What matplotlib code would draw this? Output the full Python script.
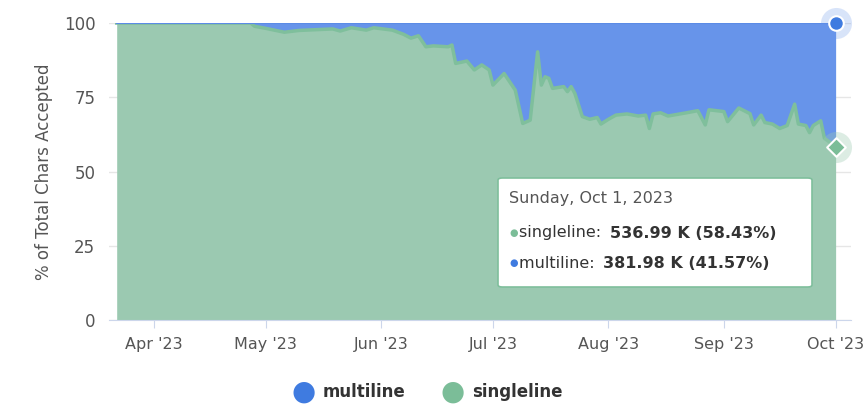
import matplotlib
matplotlib.use("Agg")
import matplotlib.pyplot as plt
import numpy as np
import pandas as pd
from matplotlib.patches import FancyBboxPatch

dates = ["2023-03-22","2023-04-27","2023-04-28","2023-05-01","2023-05-06","2023-05-10","2023-05-19",
 "2023-05-21","2023-05-24","2023-05-28","2023-05-30","2023-06-04","2023-06-07","2023-06-09","2023-06-11",
 "2023-06-13","2023-06-15","2023-06-19","2023-06-20","2023-06-21","2023-06-24","2023-06-26","2023-06-28",
 "2023-06-30","2023-07-01","2023-07-04","2023-07-07","2023-07-09","2023-07-11","2023-07-13","2023-07-14",
 "2023-07-15","2023-07-16","2023-07-17","2023-07-20","2023-07-21","2023-07-22","2023-07-23","2023-07-25",
 "2023-07-27","2023-07-29","2023-07-30","2023-08-01","2023-08-03","2023-08-06","2023-08-09","2023-08-11",
 "2023-08-12","2023-08-13","2023-08-15","2023-08-17","2023-08-22","2023-08-25","2023-08-27","2023-08-28",
 "2023-09-01","2023-09-02","2023-09-05","2023-09-08","2023-09-09","2023-09-11","2023-09-12","2023-09-14",
 "2023-09-16","2023-09-18","2023-09-20","2023-09-21","2023-09-23","2023-09-24","2023-09-25","2023-09-27",
 "2023-09-28","2023-10-01"]
singleline = [100,100,98.9,98.2,96.9,97.5,98.0,
 97.3,98.4,97.6,98.4,97.6,96.2,94.9,95.7,
 92.0,92.3,92.0,92.6,86.4,87.2,84.2,85.9,
 84.2,79.1,83.0,77.4,66.2,67.3,90.3,79.1,
 81.9,81.4,78.0,78.6,76.9,78.6,76.3,68.5,
 67.6,68.2,66.0,67.6,69.0,69.4,68.7,69.0,
 64.5,69.4,69.8,68.7,69.8,70.5,65.7,70.8,
 70.2,66.8,71.4,69.5,65.7,69.0,66.5,66.0,
 64.5,65.5,72.7,66.0,65.5,63.1,65.5,67.1,
 61.2,58.43]
xticks = ["2023-04-01","2023-05-01","2023-06-01","2023-07-01","2023-08-01","2023-09-01","2023-10-01"]
xticklabels = ["Apr '23","May '23","Jun '23","Jul '23","Aug '23","Sep '23","Oct '23"]

x = pd.to_datetime(dates)
s = np.array(singleline)
m = 100 - s

GREEN_FILL = "#9bc9b1"; GREEN_LINE = "#7fbf9c"; BLUE = "#6794ea"; BLUE_LINE = "#5b8be6"
plt.rcParams['font.family'] = ['DejaVu Sans']
fig = plt.figure(figsize=(8.67, 4.18), dpi=100)
ax = fig.add_axes([0.126, 0.234, 0.855, 0.711])
ax.fill_between(x, 0, s, color=GREEN_FILL, lw=0)
ax.fill_between(x, s, 100, color=BLUE, lw=0)
ax.plot(x, s, color=GREEN_LINE, lw=2.5)
ax.plot(x, s + m, color=BLUE_LINE, lw=1.5)
ax.set_ylim(0, 100)
ax.set_xlim(pd.Timestamp("2023-03-20"), pd.Timestamp("2023-10-05"))
ax.set_yticks([0, 25, 50, 75, 100])
ax.tick_params(axis='y', length=0, labelsize=12, colors='#555555', pad=10)
ax.set_xticks(pd.to_datetime(xticks))
ax.set_xticklabels(xticklabels)
ax.tick_params(axis='x', length=6, color='#ccd6eb', labelsize=11.5, colors='#555555', pad=6)
for t in ax.get_xticklabels(): t.set_color('#555555')
ax.get_xticklabels()[-1].set_horizontalalignment('center')
ax.grid(axis='y', color='#e6e6e6', lw=1)
ax.set_axisbelow(True)
for sp in ['top', 'right', 'left']: ax.spines[sp].set_visible(False)
ax.spines['bottom'].set_color('#ccd6eb')
ax.set_ylabel("% of Total Chars Accepted", fontsize=12, color='#555555', labelpad=8)

ax.scatter([x[-1]], [100], s=500, color=BLUE, alpha=0.25, clip_on=False, zorder=5, lw=0)
ax.scatter([x[-1]], [100], s=110, color='#3f7be0', edgecolor='white', lw=1.5, clip_on=False, zorder=6)
ax.scatter([x[-1]], [s[-1]], s=500, color=GREEN_FILL, alpha=0.35, clip_on=False, zorder=5, lw=0)
ax.scatter([x[-1]], [s[-1]], s=90, marker='D', color='#7bbd98', edgecolor='white', lw=1.5, clip_on=False, zorder=6)

box = FancyBboxPatch((498/867, 1-287/418), 314/867, 109/418, boxstyle="round,pad=0,rounding_size=0.005",
                     transform=fig.transFigure, facecolor='white', edgecolor='#7fbf9c', lw=1.2, zorder=10)
fig.patches.append(box)
fig.text(509/867, 1-199/418, "Sunday, Oct 1, 2023", fontsize=11.5, color='#555555', va='center', zorder=11)
renderer = fig.canvas.get_renderer()
for yy, col, lab, val in [(233, '#7bbd98', "singleline: ", "536.99 K (58.43%)"),
                          (263, '#3f7be0', "multiline: ", "381.98 K (41.57%)")]:
    fig.text(509/867, 1-yy/418, "●", fontsize=7, color=col, va='center', zorder=11)
    t = fig.text(519/867, 1-yy/418, lab, fontsize=11.5, color='#333333', va='center', zorder=11)
    bb = t.get_window_extent(renderer)
    fig.text(bb.x1/867 + 0.004, 1-yy/418, val, fontsize=11.5, color='#333333', va='center', weight='bold', zorder=11)

fig.text(304/867, 1-392/418, "●", fontsize=20, color='#3f7be0', ha='center', va='center')
fig.text(323/867, 1-392/418, "multiline", fontsize=12, color='#333333', weight='bold', va='center')
fig.text(453/867, 1-392/418, "●", fontsize=20, color='#7bbd98', ha='center', va='center')
fig.text(472/867, 1-392/418, "singleline", fontsize=12, color='#333333', weight='bold', va='center')

fig.savefig("out.png", dpi=100)
